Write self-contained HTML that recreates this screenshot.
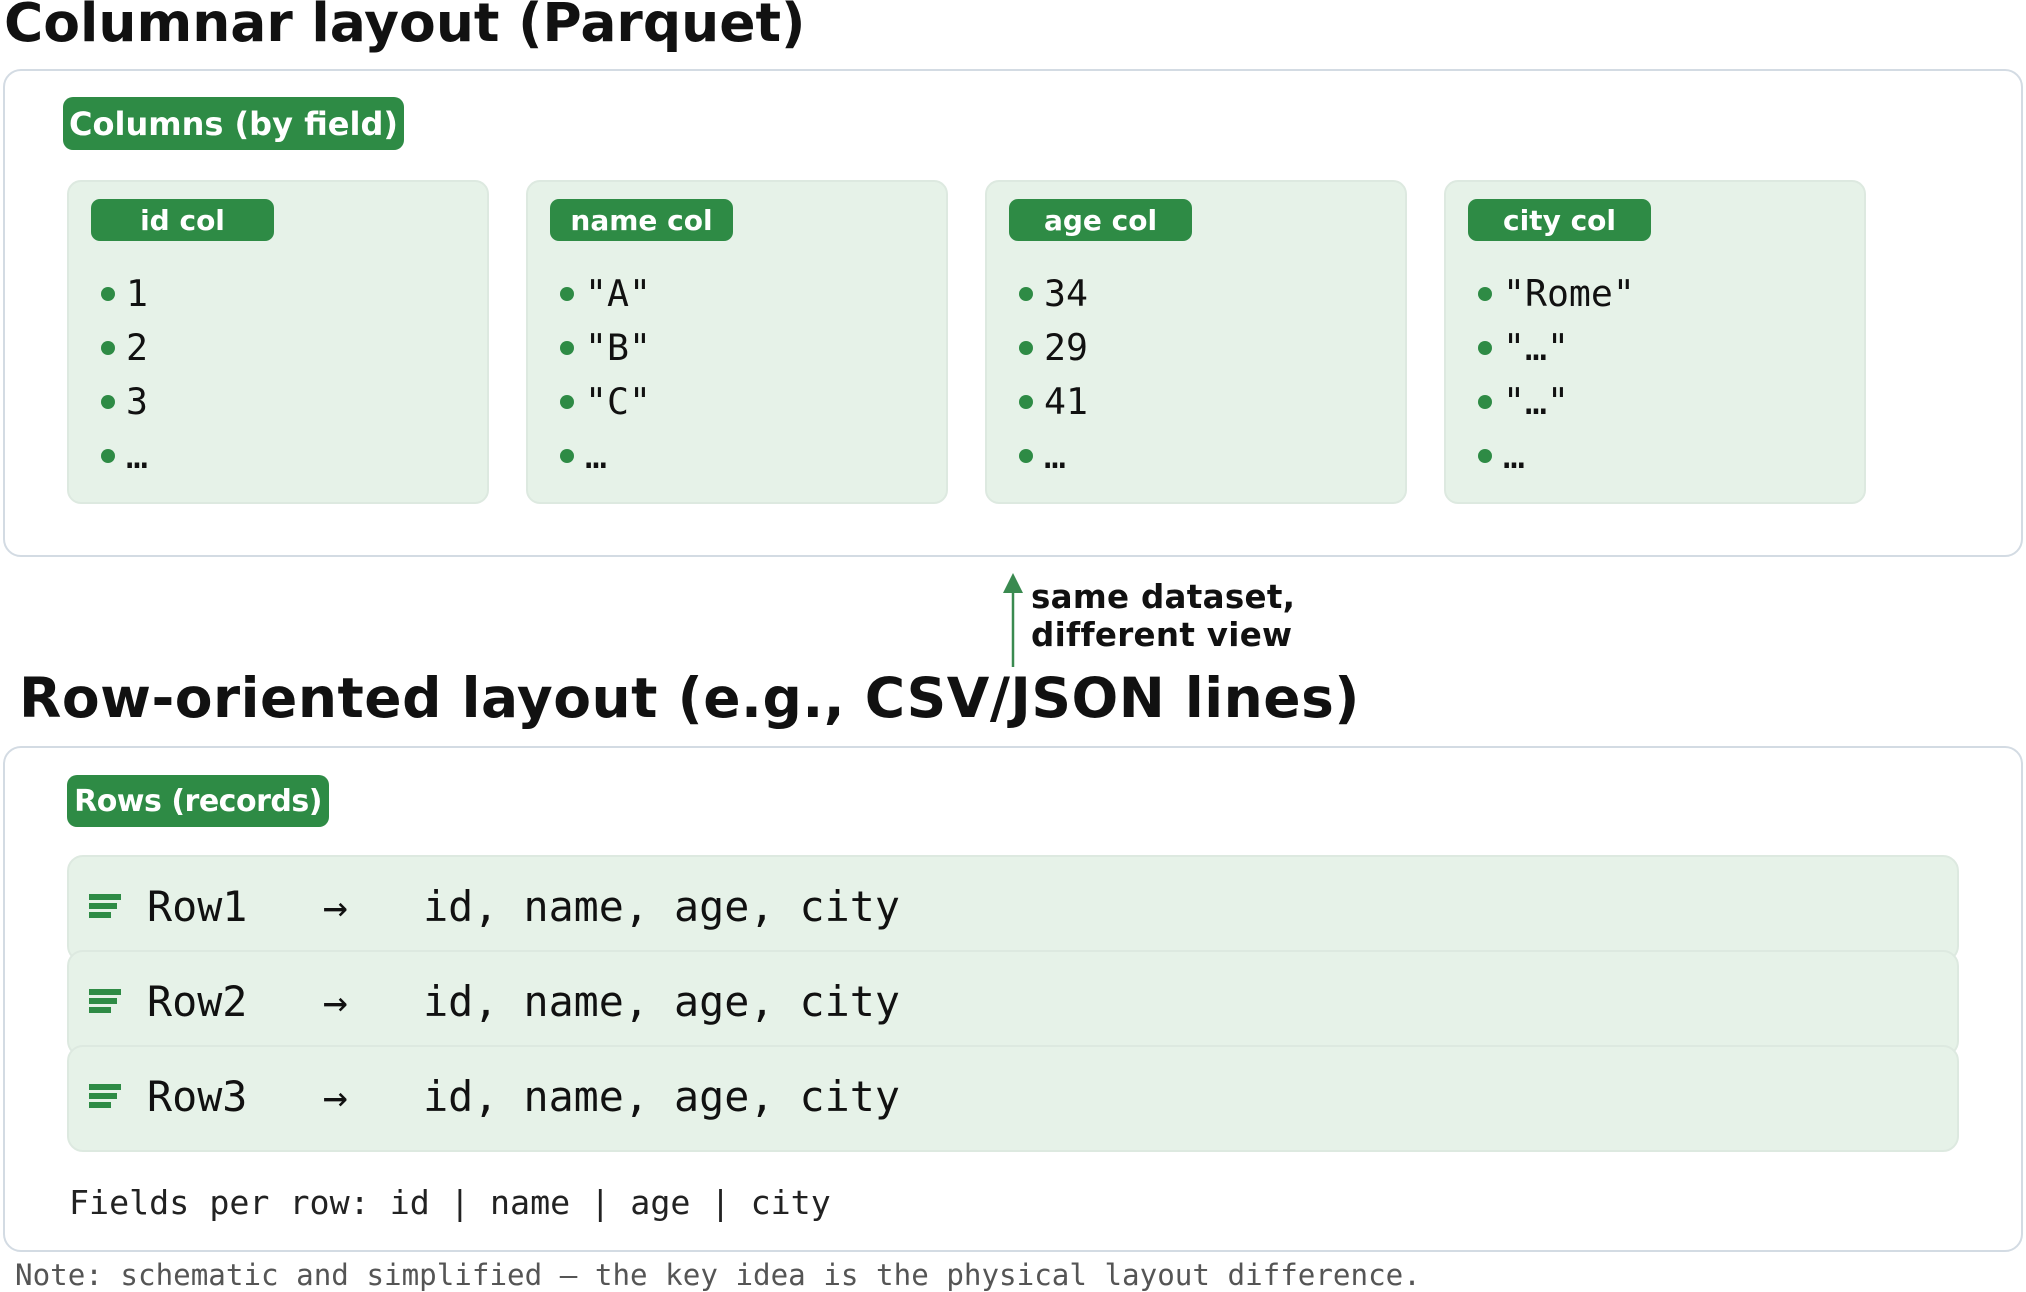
<!DOCTYPE html>
<html><head><meta charset="utf-8"><style>
*{margin:0;padding:0;box-sizing:border-box}
body{width:2026px;height:1292px;background:#fff;position:relative;overflow:hidden;font-family:"DejaVu Sans","Liberation Sans",sans-serif;color:#111}
.abs{position:absolute}
.h{font-weight:bold;font-size:54px;white-space:nowrap;line-height:1}
.box{position:absolute;border:2.5px solid #d3dbe3;border-radius:18px;background:#fff}
.badge{position:absolute;background:#2e8b45;color:#fff;font-weight:bold;border-radius:10px;white-space:nowrap;display:flex;align-items:center;justify-content:center}
.card{position:absolute;top:180px;width:422px;height:324px;background:#e6f2e8;border:2px solid #dde9e0;border-radius:14px}
.card .badge{left:22px;top:17px;width:183px;height:42px;font-size:28px;border-radius:9px}
.it{position:absolute;left:0;font-family:"DejaVu Sans Mono","Liberation Mono",monospace;font-size:36.5px;line-height:1;white-space:pre}
.dot{position:absolute;left:32px;width:14px;height:14px;border-radius:50%;background:#2e8b45}
.row{position:absolute;left:67px;width:1892px;height:107px;background:#e6f2e8;border:2px solid #dde9e0;border-radius:16px}
.row .t{position:absolute;left:78px;top:50%;transform:translateY(-50%);margin-top:-2px;font-family:"DejaVu Sans Mono","Liberation Mono",monospace;font-size:41.7px;white-space:pre;line-height:1}
.ic{position:absolute;left:20px;top:50%;margin-top:-15px;width:34px;height:28px}
.ic i{position:absolute;left:0;height:6px;background:#2e8b45}
.mono{font-family:"DejaVu Sans Mono","Liberation Mono",monospace;white-space:pre;line-height:1}
</style></head><body>
<div class="abs h" style="left:4px;top:-4px;font-size:53.5px">Columnar layout (Parquet)</div>
<div class="box" style="left:3px;top:69px;width:2020px;height:488px"></div>
<div class="badge" style="left:63px;top:97px;width:341px;height:53px;font-size:32px">Columns (by field)</div>

<div class="card" style="left:67px"><div class="badge">id col</div>
<div class="dot" style="top:105px"></div><div class="it" style="left:57px;top:94px">1</div>
<div class="dot" style="top:159px"></div><div class="it" style="left:57px;top:148px">2</div>
<div class="dot" style="top:213px"></div><div class="it" style="left:57px;top:202px">3</div>
<div class="dot" style="top:267px"></div><div class="it" style="left:57px;top:256px">…</div></div>

<div class="card" style="left:526px"><div class="badge">name col</div>
<div class="dot" style="top:105px"></div><div class="it" style="left:57px;top:94px">"A"</div>
<div class="dot" style="top:159px"></div><div class="it" style="left:57px;top:148px">"B"</div>
<div class="dot" style="top:213px"></div><div class="it" style="left:57px;top:202px">"C"</div>
<div class="dot" style="top:267px"></div><div class="it" style="left:57px;top:256px">…</div></div>

<div class="card" style="left:985px"><div class="badge">age col</div>
<div class="dot" style="top:105px"></div><div class="it" style="left:57px;top:94px">34</div>
<div class="dot" style="top:159px"></div><div class="it" style="left:57px;top:148px">29</div>
<div class="dot" style="top:213px"></div><div class="it" style="left:57px;top:202px">41</div>
<div class="dot" style="top:267px"></div><div class="it" style="left:57px;top:256px">…</div></div>

<div class="card" style="left:1444px"><div class="badge">city col</div>
<div class="dot" style="top:105px"></div><div class="it" style="left:57px;top:94px">"Rome"</div>
<div class="dot" style="top:159px"></div><div class="it" style="left:57px;top:148px">"…"</div>
<div class="dot" style="top:213px"></div><div class="it" style="left:57px;top:202px">"…"</div>
<div class="dot" style="top:267px"></div><div class="it" style="left:57px;top:256px">…</div></div>

<svg class="abs" style="left:990px;top:565px" width="50" height="110">
<line x1="23" y1="18" x2="23" y2="102" stroke="#3a8a50" stroke-width="2.5"/>
<polygon points="23,8 13,28 33,28" fill="#3a8a50"/></svg>
<div class="abs" style="left:1031px;top:578px;font-weight:bold;font-size:32.5px;line-height:38px;white-space:nowrap;letter-spacing:0.3px">same dataset,<br>different view</div>

<div class="abs h" style="left:19px;top:671px;font-size:55px;letter-spacing:0.5px">Row-oriented layout (e.g., CSV/JSON lines)</div>
<div class="box" style="left:3px;top:746px;width:2020px;height:506px"></div>
<div class="badge" style="left:67px;top:775px;width:262px;height:52px;font-size:30px;letter-spacing:-0.5px">Rows (records)</div>

<div class="row" style="top:855px"><div class="ic"><i style="top:0;width:32px"></i><i style="top:9px;width:28px"></i><i style="top:18px;width:22px"></i></div><div class="t">Row1   →   id, name, age, city</div></div>
<div class="row" style="top:950px"><div class="ic"><i style="top:0;width:32px"></i><i style="top:9px;width:28px"></i><i style="top:18px;width:22px"></i></div><div class="t">Row2   →   id, name, age, city</div></div>
<div class="row" style="top:1045px"><div class="ic"><i style="top:0;width:32px"></i><i style="top:9px;width:28px"></i><i style="top:18px;width:22px"></i></div><div class="t">Row3   →   id, name, age, city</div></div>

<div class="abs mono" style="left:69px;top:1186px;font-size:33.3px;color:#222">Fields per row: id | name | age | city</div>
<div class="abs mono" style="left:15px;top:1261px;font-size:29.2px;color:#555">Note: schematic and simplified — the key idea is the physical layout difference.</div>
</body></html>
